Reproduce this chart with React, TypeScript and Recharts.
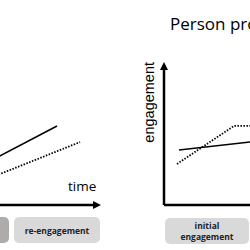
import { LineChart, Line, XAxis, YAxis } from 'recharts'

// left panel (re-engagement): two trends over time
const leftSolid = [
  { t: 2, v: 2.62 },
  { t: 7.38, v: 5.45 },
]
const leftDotted = [
  { t: 2, v: 1.56 },
  { t: 8.97, v: 4.34 },
]

// right panel (person profile): initial engagement
const rightSolid = [
  { t: 1.29, v: 4.01 },
  { t: 9, v: 4.75 },
]
const rightDotted = [
  { t: 1.12, v: 2.99 },
  { t: 6.03, v: 5.77 },
  { t: 9, v: 5.77 },
]

const titleText = 'Person profile'
const xLabel = 'time'
const yLabel = 'engagement'
const phaseLeft = 're-engagement'
const phaseRight = ['initial', 'engagement']

const boxStyle: React.CSSProperties = {
  position: 'absolute',
  background: '#d9d9d9',
  borderRadius: 5,
  display: 'flex',
  flexDirection: 'column',
  alignItems: 'center',
  justifyContent: 'center',
  fontFamily: '"Open Sans", sans-serif',
  fontWeight: 700,
  fontSize: 8.5,
  color: '#222',
  lineHeight: '11px',
}

function EngLabel(props: any) {
  const vb = props.viewBox || { x: 43, y: 28, width: 1 }
  const x = vb.x + (vb.width || 0) - 10
  const y = vb.y - 6
  return (
    <text
      x={x}
      y={y}
      transform={`rotate(-90, ${x}, ${y})`}
      textAnchor="end"
      fontFamily='"Liberation Sans", Arial, sans-serif'
      fontSize={14.5}
      fill="#000"
    >
      {yLabel}
    </text>
  )
}

export default function App() {
  return (
    <div style={{ position: 'absolute', left: 0, top: 0, width: 250, height: 250, overflow: 'hidden', background: '#fff' }}>
      <svg width={0} height={0} style={{ position: 'absolute' }}>
        <defs>
          <marker id="arrowHead" markerUnits="userSpaceOnUse" markerWidth={8} markerHeight={8} refX={2} refY={4} orient="auto-start-reverse">
            <path d="M0,0 L8,4 L0,8 z" fill="#000" />
          </marker>
        </defs>
      </svg>

      {/* left panel, cut off by the frame */}
      <div style={{ position: 'absolute', left: -60, top: 40 }}>
        <LineChart width={165} height={175} margin={{ top: 20, right: 10, left: 10, bottom: 9 }}>
          <XAxis
            type="number"
            dataKey="t"
            domain={[0, 10]}
            allowDataOverflow
            height={1}
            tick={false}
            tickLine={false}
            axisLine={{ stroke: '#000', strokeWidth: 2.5, markerEnd: 'url(#arrowHead)' }}
          />
          <YAxis type="number" domain={[0, 10]} hide allowDataOverflow />
          <Line data={leftSolid} dataKey="v" stroke="#000" strokeWidth={1.5} dot={false} isAnimationActive={false} />
          <Line data={leftDotted} dataKey="v" stroke="#000" strokeWidth={1.8} strokeDasharray="1.5 1.5" dot={false} isAnimationActive={false} />
        </LineChart>
      </div>
      <span style={{ position: 'absolute', left: 68, top: 177, fontFamily: '"Open Sans", sans-serif', fontSize: 13.5, color: '#000' }}>
        {xLabel}
      </span>

      {/* right panel */}
      <div style={{ position: 'absolute', left: 120, top: 40 }}>
        <LineChart width={160} height={175} margin={{ top: 28, right: 0, left: 43, bottom: 9 }}>
          <XAxis
            type="number"
            dataKey="t"
            domain={[0, 10]}
            allowDataOverflow
            height={1}
            tick={false}
            tickLine={false}
            axisLine={{ stroke: '#000', strokeWidth: 2.5 }}
          />
          <YAxis
            type="number"
            domain={[0, 10]}
            allowDataOverflow
            width={1}
            tick={false}
            tickLine={false}
            axisLine={{ stroke: '#000', strokeWidth: 2.5, markerStart: 'url(#arrowHead)' }}
            label={<EngLabel />}
          />
          <Line data={rightSolid} dataKey="v" stroke="#000" strokeWidth={1.5} dot={false} isAnimationActive={false} />
          <Line data={rightDotted} dataKey="v" stroke="#000" strokeWidth={1.8} strokeDasharray="1.5 1.5" dot={false} isAnimationActive={false} />
        </LineChart>
      </div>

      <div style={{ position: 'absolute', left: 170, top: 12, fontFamily: '"Open Sans", sans-serif', fontSize: 17, color: '#000', whiteSpace: 'nowrap' }}>
        {titleText}
      </div>

      {/* phase boxes */}
      <div style={{ ...boxStyle, left: -20, top: 217, width: 29, height: 26, background: '#afabab' }} />
      <div style={{ ...boxStyle, left: 14, top: 217, width: 86, height: 26 }}>{phaseLeft}</div>
      <div style={{ ...boxStyle, left: 165, top: 218, width: 84, height: 26 }}>
        {phaseRight.map(s => (
          <div key={s}>{s}</div>
        ))}
      </div>
    </div>
  )
}
